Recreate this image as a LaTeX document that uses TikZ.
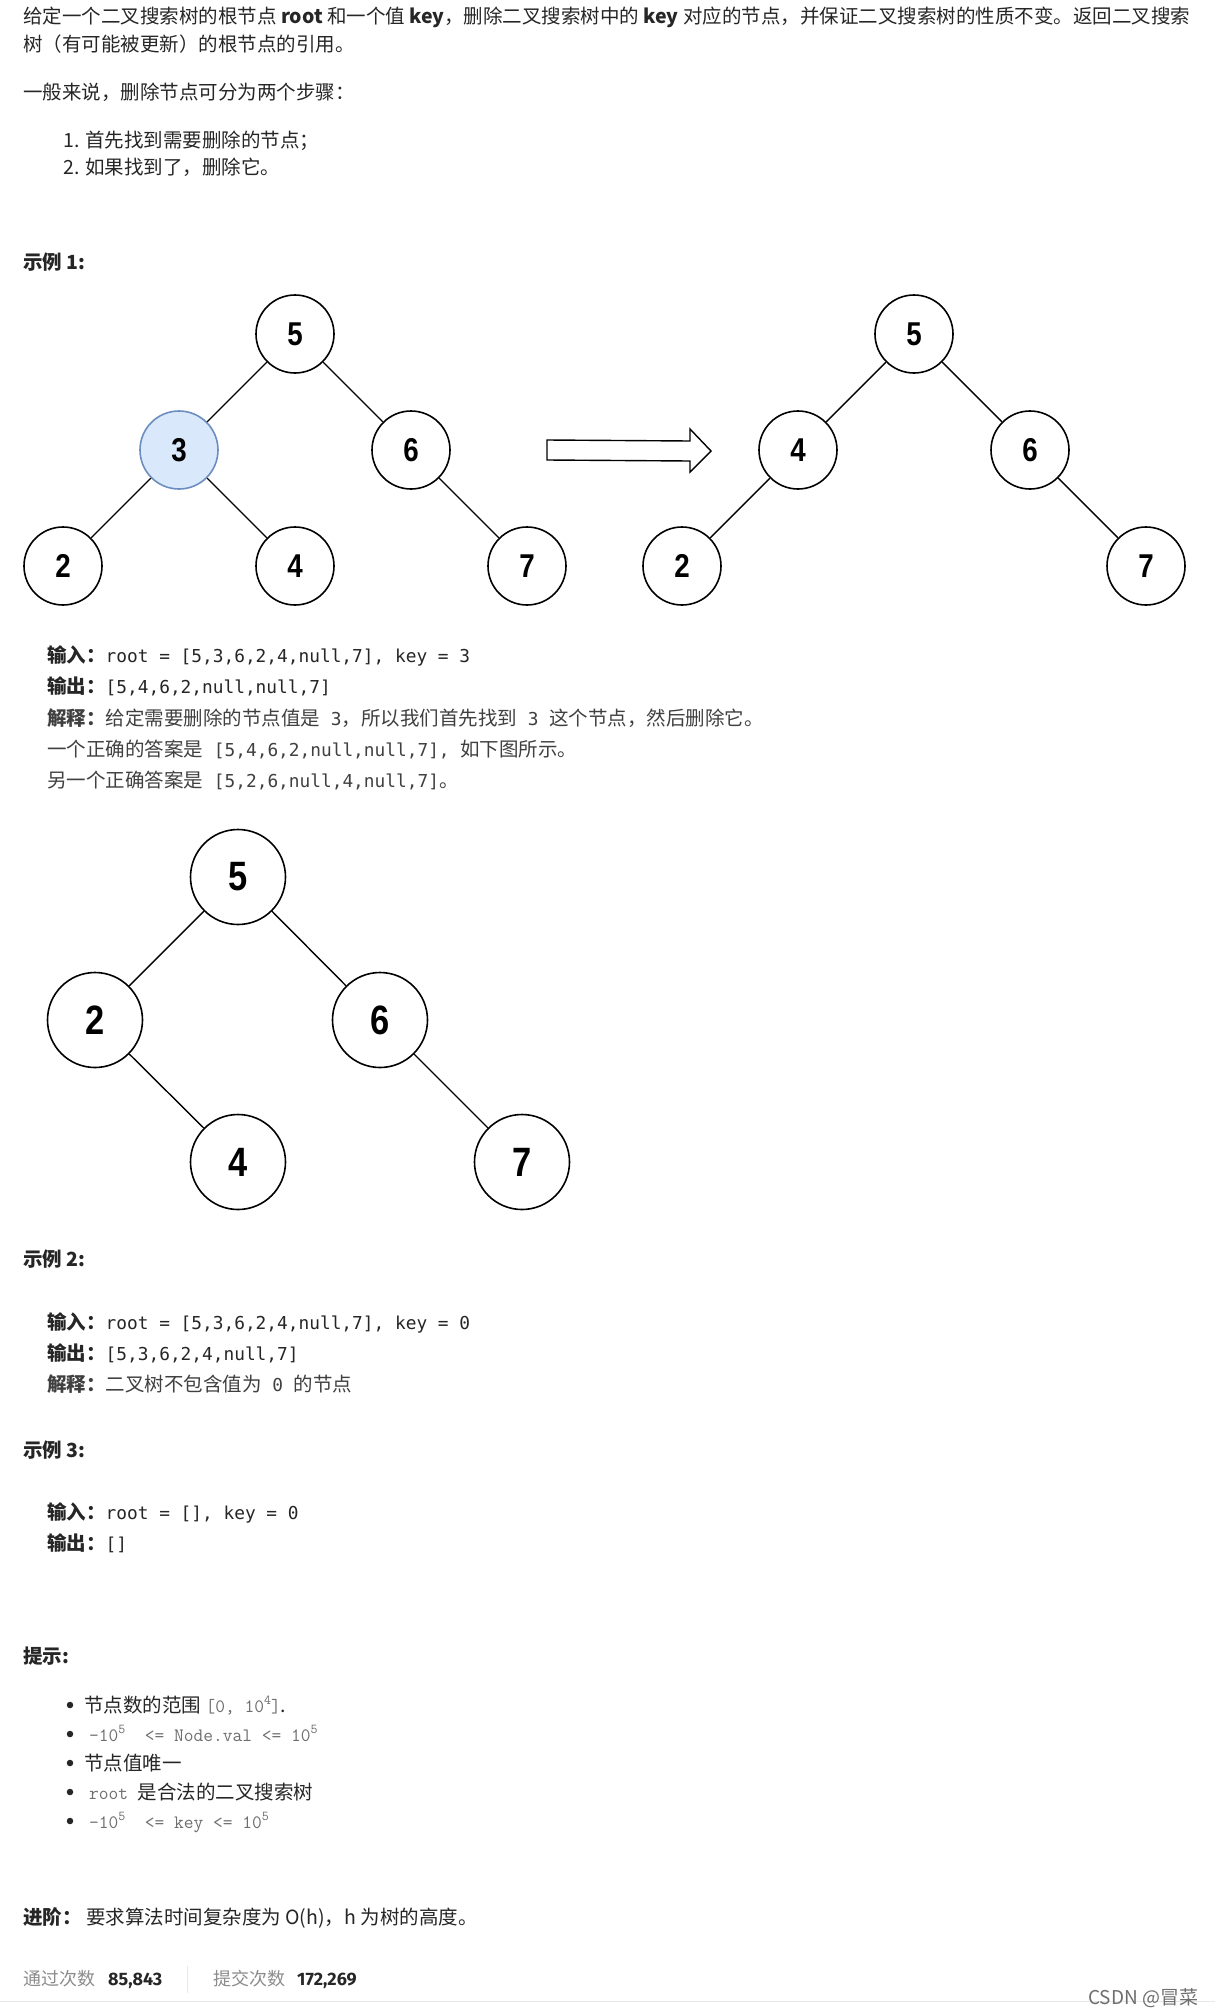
\documentclass[tikz,border=0pt]{standalone}
\usepackage{fontspec}
\setmainfont{Noto Sans CJK SC}
\setmonofont[Scale=0.913]{DejaVu Sans Mono}
\newfontfamily\gmono[Scale=0.97]{Latin Modern Mono}
\newfontfamily\numfont[FakeStretch=0.84]{Liberation Sans}
\newfontfamily\statfont[Numbers=Proportional]{Fira Sans}
\newcommand{\supnum}[1]{\raisebox{0.42em}{\fontsize{14}{14}\selectfont #1}}
\newcommand{\msp}{\texttt{\ }}
\definecolor{bodyc}{HTML}{262626}
\definecolor{softc}{HTML}{404040}
\definecolor{greyc}{HTML}{6E6E6E}
\definecolor{statc}{HTML}{8C8C8C}
\definecolor{rulec}{HTML}{E8E8E8}
\definecolor{fillblue}{HTML}{DAE8FC}
\definecolor{edgeblue}{HTML}{6C8EBF}
\tikzset{
  txt/.style={anchor=base west,inner sep=0pt,text=bodyc,font=\fontsize{19.5}{24}\selectfont},
  soft/.style={txt,text=softc},
  head/.style={txt,font=\fontsize{19.5}{24}\selectfont\bfseries},
  grey/.style={txt,text=greyc},
  stat/.style={txt,text=statc,font=\fontsize{18}{22}\selectfont},
  statnum/.style={txt,font=\statfont\fontsize{18}{22}\selectfont\bfseries},
  dot/.style={circle,fill=bodyc,inner sep=0pt,minimum size=6.5pt},
  tnode/.style={circle,draw=black,line width=1.6pt,fill=white,inner sep=0pt,minimum size=78pt,font=\numfont\bfseries\fontsize{33}{33}\selectfont},
  bnode/.style={tnode,minimum size=95pt,font=\numfont\bfseries\fontsize{41}{41}\selectfont},
  hot/.style={fill=fillblue,draw=edgeblue},
  link/.style={draw=black,line width=1.4pt},
}
\begin{document}
\begin{tikzpicture}[x=1pt,y=-1pt]
\useasboundingbox[fill=white] (0,0) rectangle (1215,2015);
% intro
\node[txt] (l1) at (23,24) {给定一个二叉搜索树的根节点 \textbf{root} 和一个值 \textbf{key}，删除二叉搜索树中的 \textbf{key} 对应的节点，并保证二叉搜索树的性质不变。返回二叉搜索};
\node[txt] (l2) at (23,52) {树（有可能被更新）的根节点的引用。};
\node[txt] (l3) at (23,100) {一般来说，删除节点可分为两个步骤：};
\node[txt] (l4) at (63,147) {1. 首先找到需要删除的节点；};
\node[txt] (l5) at (63,175) {2. 如果找到了，删除它。};
\node[head] (ex1) at (23,269) {示例 1:};
% tree 1
\node[tnode] (a5) at (295,334) {5};
\node[tnode,hot] (a3) at (179,450) {3};
\node[tnode] (a6) at (411,450) {6};
\node[tnode] (a2) at (63,566) {2};
\node[tnode] (a4) at (295,566) {4};
\node[tnode] (a7) at (527,566) {7};
\draw[link] (a5)--(a3); \draw[link] (a5)--(a6); \draw[link] (a3)--(a2); \draw[link] (a3)--(a4); \draw[link] (a6)--(a7);
% arrow
\draw[black,line width=1.4pt,fill=white] (547,440)--(690,441)--(690,429)--(711,451)--(690,472)--(690,461)--(547,460)--cycle;
% tree 2
\node[tnode] (b5) at (914,334) {5};
\node[tnode] (b4) at (798,450) {4};
\node[tnode] (b6) at (1030,450) {6};
\node[tnode] (b2) at (682,566) {2};
\node[tnode] (b7) at (1146,566) {7};
\draw[link] (b5)--(b4); \draw[link] (b5)--(b6); \draw[link] (b4)--(b2); \draw[link] (b6)--(b7);
% example 1 text
\node[txt] (e1a) at (47,662) {\textbf{输入：}\texttt{root = [5,3,6,2,4,null,7], key = 3}};
\node[txt] (e1b) at (47,693) {\textbf{输出：}\texttt{[5,4,6,2,null,null,7]}};
\node[soft] (e1c) at (47,725) {\textbf{解释：}给定需要删除的节点值是\msp\texttt{3}，所以我们首先找到\msp\texttt{3}\msp 这个节点，然后删除它。};
\node[soft] (e1d) at (47,756) {一个正确的答案是\msp\texttt{[5,4,6,2,null,null,7],}\msp 如下图所示。};
\node[soft] (e1e) at (47,787) {另一个正确答案是\msp\texttt{[5,2,6,null,4,null,7]}。};
% tree 3
\node[bnode] (c5) at (238,877) {5};
\node[bnode] (c2) at (95,1020) {2};
\node[bnode] (c6) at (380,1020) {6};
\node[bnode] (c4) at (238,1162) {4};
\node[bnode] (c7) at (522,1162) {7};
\draw[link] (c5)--(c2); \draw[link] (c5)--(c6); \draw[link] (c2)--(c4); \draw[link] (c6)--(c7);
% example 2
\node[head] (ex2) at (23,1266) {示例 2:};
\node[txt] (e2a) at (47,1329) {\textbf{输入：}\texttt{root = [5,3,6,2,4,null,7], key = 0}};
\node[txt] (e2b) at (47,1360) {\textbf{输出：}\texttt{[5,3,6,2,4,null,7]}};
\node[soft] (e2c) at (47,1391) {\textbf{解释：}二叉树不包含值为\msp\texttt{0}\msp 的节点};
% example 3
\node[head] (ex3) at (23,1457) {示例 3:};
\node[txt] (e3a) at (47,1519) {\textbf{输入：}\texttt{root = [], key = 0}};
\node[txt] (e3b) at (47,1550) {\textbf{输出：}\texttt{[]}};
% hints
\node[head] (hint) at (23,1663) {提示:};
\node[dot] (d1) at (70,1705) {};
\node[dot] (d2) at (70,1734) {};
\node[dot] (d3) at (70,1763) {};
\node[dot] (d4) at (70,1792) {};
\node[dot] (d5) at (70,1821) {};
\node[txt] (h1) at (84,1712) {节点数的范围\ {\color{greyc}\gmono [0, 10\supnum{4}]}.};
\node[grey] (h2) at (89,1741) {{\gmono -10\supnum{5}\ \ <= Node.val <= 10\supnum{5}}};
\node[txt] (h3) at (84,1770) {节点值唯一};
\node[txt] (h4) at (89,1799) {{\color{greyc}\gmono root\ }是合法的二叉搜索树};
\node[grey] (h5) at (89,1828) {{\gmono -10\supnum{5}\ \ <= key <= 10\supnum{5}}};
% advanced
\node[txt] (adv) at (23,1924) {\textbf{进阶：}\ 要求算法时间复杂度为 O(h)，h 为树的高度。};
% stats
\node[stat] (s1) at (23,1985) {通过次数};
\node[statnum] (s2) at (108,1985) {85,843};
\node[stat] (s3) at (213,1985) {提交次数};
\node[statnum] (s4) at (297,1985) {172,269};
\draw[rulec,line width=1.2pt] (187.7,1966)--(187.7,1993);
\draw[rulec,line width=1pt] (0,2001.5)--(1215,2001.5);
\node[txt,text=greyc,font=\fontsize{19}{24}\selectfont] (csdn) at (1088,2004) {CSDN @冒菜};
\end{tikzpicture}
\end{document}
